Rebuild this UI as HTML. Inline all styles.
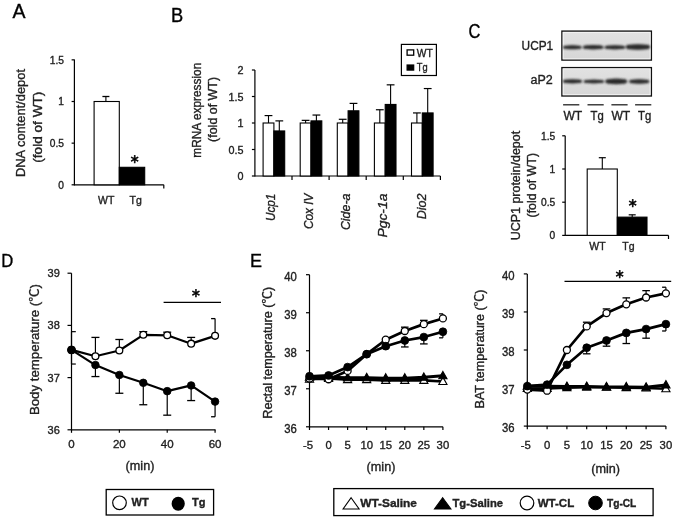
<!DOCTYPE html>
<html><head><meta charset="utf-8"><title>Figure</title>
<style>html,body{margin:0;padding:0;background:#fff;}svg{display:block;}text{font-family:"Liberation Sans", "Noto Sans CJK JP", sans-serif;}</style>
</head><body>
<svg width="675" height="518" viewBox="0 0 675 518">
<rect x="0" y="0" width="675" height="518" fill="#fff"/>
<text x="12.5" y="18.4" font-size="19.5" text-anchor="start" stroke="#000" stroke-width="0.35" fill="#000">A</text>
<text x="171" y="22.2" font-size="19.5" text-anchor="start" stroke="#000" stroke-width="0.35" textLength="12.2" lengthAdjust="spacingAndGlyphs" fill="#000">B</text>
<text x="468.6" y="37.7" font-size="19.5" text-anchor="start" stroke="#000" stroke-width="0.35" textLength="11.9" lengthAdjust="spacingAndGlyphs" fill="#000">C</text>
<text x="1.2" y="266.5" font-size="18" text-anchor="start" stroke="#000" stroke-width="0.35" textLength="12" lengthAdjust="spacingAndGlyphs" fill="#000">D</text>
<text x="250" y="266.5" font-size="18" text-anchor="start" stroke="#000" stroke-width="0.35" fill="#000">E</text>
<line x1="74.4" y1="59.6" x2="74.4" y2="185.4" stroke="#000" stroke-width="1.2"/>
<line x1="71.6" y1="184.8" x2="74.4" y2="184.8" stroke="#000" stroke-width="1.2"/>
<text x="63.9" y="188.5" font-size="10.2" text-anchor="end" stroke="#222" stroke-width="0.35" fill="#222">0</text>
<line x1="71.6" y1="143.15" x2="74.4" y2="143.15" stroke="#000" stroke-width="1.2"/>
<text x="63.9" y="146.85" font-size="10.2" text-anchor="end" stroke="#222" stroke-width="0.35" fill="#222">0.5</text>
<line x1="71.6" y1="101.5" x2="74.4" y2="101.5" stroke="#000" stroke-width="1.2"/>
<text x="63.9" y="105.2" font-size="10.2" text-anchor="end" stroke="#222" stroke-width="0.35" fill="#222">1</text>
<line x1="71.6" y1="59.85" x2="74.4" y2="59.85" stroke="#000" stroke-width="1.2"/>
<text x="63.9" y="63.55" font-size="10.2" text-anchor="end" stroke="#222" stroke-width="0.35" fill="#222">1.5</text>
<line x1="74.4" y1="184.8" x2="163.8" y2="184.8" stroke="#000" stroke-width="1.2"/>
<line x1="163.8" y1="184.8" x2="163.8" y2="188.6" stroke="#000" stroke-width="1.2"/>
<rect x="94.1" y="101.5" width="25.2" height="83.3" fill="#fff" stroke="#000" stroke-width="1.1"/>
<rect x="119.3" y="167.31" width="25.4" height="17.49" fill="#000" stroke="#000" stroke-width="1.1"/>
<line x1="105.9" y1="101.5" x2="105.9" y2="96.5" stroke="#000" stroke-width="1.1"/>
<line x1="102.4" y1="96.5" x2="109.4" y2="96.5" stroke="#000" stroke-width="1.3"/>
<text x="134.5" y="163.33" font-size="12.4" text-anchor="middle" font-family="DejaVu Sans" style="font-family:'DejaVu Sans',sans-serif" stroke="#000" stroke-width="0.5">∗</text>
<text x="106.2" y="203.6" font-size="10.5" text-anchor="middle" stroke="#222" stroke-width="0.35" fill="#222">WT</text>
<text x="135.7" y="203.6" font-size="10.5" text-anchor="middle" stroke="#222" stroke-width="0.35" fill="#222">Tg</text>
<text transform="translate(25.4,123) rotate(-90)" font-size="12" text-anchor="middle" stroke="#222" stroke-width="0.35" textLength="108" lengthAdjust="spacingAndGlyphs" fill="#222">DNA content/depot</text>
<text transform="translate(41.8,127.2) rotate(-90)" font-size="12" text-anchor="middle" stroke="#222" stroke-width="0.35" textLength="71" lengthAdjust="spacingAndGlyphs" fill="#222">(fold of WT)</text>
<line x1="254.9" y1="70" x2="254.9" y2="176.6" stroke="#000" stroke-width="1.2"/>
<line x1="251.9" y1="176" x2="254.9" y2="176" stroke="#000" stroke-width="1.2"/>
<text x="243.6" y="180.3" font-size="10.8" text-anchor="end" stroke="#222" stroke-width="0.35" fill="#222">0</text>
<line x1="251.9" y1="149.5" x2="254.9" y2="149.5" stroke="#000" stroke-width="1.2"/>
<text x="243.6" y="153.8" font-size="10.8" text-anchor="end" stroke="#222" stroke-width="0.35" fill="#222">0.5</text>
<line x1="251.9" y1="123" x2="254.9" y2="123" stroke="#000" stroke-width="1.2"/>
<text x="243.6" y="127.3" font-size="10.8" text-anchor="end" stroke="#222" stroke-width="0.35" fill="#222">1</text>
<line x1="251.9" y1="96.5" x2="254.9" y2="96.5" stroke="#000" stroke-width="1.2"/>
<text x="243.6" y="100.8" font-size="10.8" text-anchor="end" stroke="#222" stroke-width="0.35" fill="#222">1.5</text>
<line x1="251.9" y1="70" x2="254.9" y2="70" stroke="#000" stroke-width="1.2"/>
<text x="243.6" y="74.3" font-size="10.8" text-anchor="end" stroke="#222" stroke-width="0.35" fill="#222">2</text>
<line x1="254.9" y1="176" x2="440.4" y2="176" stroke="#000" stroke-width="1.2"/>
<line x1="292" y1="176" x2="292" y2="180" stroke="#000" stroke-width="1.2"/>
<line x1="329.1" y1="176" x2="329.1" y2="180" stroke="#000" stroke-width="1.2"/>
<line x1="366.2" y1="176" x2="366.2" y2="180" stroke="#000" stroke-width="1.2"/>
<line x1="403.3" y1="176" x2="403.3" y2="180" stroke="#000" stroke-width="1.2"/>
<line x1="440.4" y1="176" x2="440.4" y2="180" stroke="#000" stroke-width="1.2"/>
<rect x="263.1" y="123" width="10.8" height="53" fill="#fff" stroke="#000" stroke-width="1.1"/>
<rect x="273.9" y="130.95" width="10.8" height="45.05" fill="#000" stroke="#000" stroke-width="1.1"/>
<line x1="268.5" y1="123" x2="268.5" y2="115.58" stroke="#000" stroke-width="1.1"/>
<line x1="264.6" y1="115.58" x2="272.4" y2="115.58" stroke="#000" stroke-width="1.2"/>
<line x1="279.3" y1="130.95" x2="279.3" y2="120.88" stroke="#000" stroke-width="1.1"/>
<line x1="275.4" y1="120.88" x2="283.2" y2="120.88" stroke="#000" stroke-width="1.2"/>
<rect x="300.2" y="123" width="10.8" height="53" fill="#fff" stroke="#000" stroke-width="1.1"/>
<rect x="311" y="120.88" width="10.8" height="55.12" fill="#000" stroke="#000" stroke-width="1.1"/>
<line x1="305.6" y1="123" x2="305.6" y2="120.35" stroke="#000" stroke-width="1.1"/>
<line x1="301.7" y1="120.35" x2="309.5" y2="120.35" stroke="#000" stroke-width="1.2"/>
<line x1="316.4" y1="120.88" x2="316.4" y2="115.05" stroke="#000" stroke-width="1.1"/>
<line x1="312.5" y1="115.05" x2="320.3" y2="115.05" stroke="#000" stroke-width="1.2"/>
<rect x="337.3" y="123" width="10.8" height="53" fill="#fff" stroke="#000" stroke-width="1.1"/>
<rect x="348.1" y="110.81" width="10.8" height="65.19" fill="#000" stroke="#000" stroke-width="1.1"/>
<line x1="342.7" y1="123" x2="342.7" y2="119.29" stroke="#000" stroke-width="1.1"/>
<line x1="338.8" y1="119.29" x2="346.6" y2="119.29" stroke="#000" stroke-width="1.2"/>
<line x1="353.5" y1="110.81" x2="353.5" y2="103.39" stroke="#000" stroke-width="1.1"/>
<line x1="349.6" y1="103.39" x2="357.4" y2="103.39" stroke="#000" stroke-width="1.2"/>
<rect x="374.4" y="123" width="10.8" height="53" fill="#fff" stroke="#000" stroke-width="1.1"/>
<rect x="385.2" y="104.45" width="10.8" height="71.55" fill="#000" stroke="#000" stroke-width="1.1"/>
<line x1="379.8" y1="123" x2="379.8" y2="109.75" stroke="#000" stroke-width="1.1"/>
<line x1="375.9" y1="109.75" x2="383.7" y2="109.75" stroke="#000" stroke-width="1.2"/>
<line x1="390.6" y1="104.45" x2="390.6" y2="84.84" stroke="#000" stroke-width="1.1"/>
<line x1="386.7" y1="84.84" x2="394.5" y2="84.84" stroke="#000" stroke-width="1.2"/>
<rect x="411.5" y="123" width="10.8" height="53" fill="#fff" stroke="#000" stroke-width="1.1"/>
<rect x="422.3" y="112.93" width="10.8" height="63.07" fill="#000" stroke="#000" stroke-width="1.1"/>
<line x1="416.9" y1="123" x2="416.9" y2="112.93" stroke="#000" stroke-width="1.1"/>
<line x1="413" y1="112.93" x2="420.8" y2="112.93" stroke="#000" stroke-width="1.2"/>
<line x1="427.7" y1="112.93" x2="427.7" y2="88.55" stroke="#000" stroke-width="1.1"/>
<line x1="423.8" y1="88.55" x2="431.6" y2="88.55" stroke="#000" stroke-width="1.2"/>
<rect x="401.4" y="44.4" width="35" height="31.1" fill="#fff" stroke="#000" stroke-width="1.2"/>
<rect x="407.1" y="49.9" width="6.6" height="5.3" fill="#fff" stroke="#000" stroke-width="1.3"/>
<text x="416.8" y="56.7" font-size="10.2" text-anchor="start" stroke="#222" stroke-width="0.35" textLength="16" lengthAdjust="spacingAndGlyphs" fill="#222">WT</text>
<rect x="407.1" y="65" width="6.6" height="5.1" fill="#000" stroke="#000" stroke-width="1.2"/>
<text x="416.8" y="71.1" font-size="10.2" text-anchor="start" stroke="#222" stroke-width="0.35" textLength="10.8" lengthAdjust="spacingAndGlyphs" fill="#222">Tg</text>
<text transform="translate(201,110.2) rotate(-90)" font-size="12" text-anchor="middle" stroke="#222" stroke-width="0.35" textLength="95" lengthAdjust="spacingAndGlyphs" fill="#222">mRNA expression</text>
<text transform="translate(217,109.4) rotate(-90)" font-size="12" text-anchor="middle" stroke="#222" stroke-width="0.35" textLength="65" lengthAdjust="spacingAndGlyphs" fill="#222">(fold of WT)</text>
<text transform="translate(274.65,193.6) rotate(-90)" font-size="13" text-anchor="end" stroke="#222" stroke-width="0.35" font-style="italic" textLength="27.5" lengthAdjust="spacingAndGlyphs" fill="#222">Ucp1</text>
<text transform="translate(312.75,193.6) rotate(-90)" font-size="13" text-anchor="end" stroke="#222" stroke-width="0.35" font-style="italic" textLength="35.5" lengthAdjust="spacingAndGlyphs" fill="#222">Cox IV</text>
<text transform="translate(349.85,193.6) rotate(-90)" font-size="13" text-anchor="end" stroke="#222" stroke-width="0.35" font-style="italic" textLength="36.5" lengthAdjust="spacingAndGlyphs" fill="#222">Cide-a</text>
<text transform="translate(386.95,193.6) rotate(-90)" font-size="13" text-anchor="end" stroke="#222" stroke-width="0.35" font-style="italic" textLength="44" lengthAdjust="spacingAndGlyphs" fill="#222">Pgc-1a</text>
<text transform="translate(425.55,193.6) rotate(-90)" font-size="13" text-anchor="end" stroke="#222" stroke-width="0.35" font-style="italic" textLength="25.6" lengthAdjust="spacingAndGlyphs" fill="#222">Dio2</text>
<text x="553.2" y="49.8" font-size="12.5" text-anchor="end" stroke="#222" stroke-width="0.35" textLength="31.6" lengthAdjust="spacingAndGlyphs" fill="#222">UCP1</text>
<text x="552.8" y="83.7" font-size="12.5" text-anchor="end" stroke="#222" stroke-width="0.35" fill="#222">aP2</text>
<defs><linearGradient id="bg" x1="0" y1="0" x2="0" y2="1"><stop offset="0" stop-color="#e2e2e2"/><stop offset="1" stop-color="#d6d6d6"/></linearGradient><filter id="bl" x="-10%" y="-50%" width="120%" height="200%"><feGaussianBlur stdDeviation="0.9"/></filter></defs>
<rect x="561.9" y="31.1" width="89.5" height="29" fill="url(#bg)" stroke="#111" stroke-width="1.35"/>
<rect x="563.2" y="32.4" width="86.9" height="26.4" fill="none" stroke="#f4f4f4" stroke-width="0.9"/>
<g filter="url(#bl)">
<ellipse cx="572.25" cy="47.3" rx="9.65" ry="1.99" fill="#2a2a2a"/>
<rect x="563.1" y="45.78" width="18.3" height="3.04" rx="1.52" fill="#2a2a2a"/>
<ellipse cx="593.2" cy="47.3" rx="10.5" ry="2.21" fill="#2a2a2a"/>
<rect x="583.2" y="45.62" width="20" height="3.36" rx="1.68" fill="#2a2a2a"/>
<ellipse cx="614.85" cy="47.3" rx="10.45" ry="2.1" fill="#2a2a2a"/>
<rect x="604.9" y="45.7" width="19.9" height="3.2" rx="1.6" fill="#2a2a2a"/>
<ellipse cx="637.85" cy="47" rx="12.35" ry="2.84" fill="#2a2a2a"/>
<rect x="626" y="44.84" width="23.7" height="4.32" rx="2.16" fill="#2a2a2a"/>
</g>
<rect x="561.9" y="67.6" width="89.5" height="28.4" fill="url(#bg)" stroke="#111" stroke-width="1.35"/>
<rect x="563.2" y="68.9" width="86.9" height="25.8" fill="none" stroke="#f4f4f4" stroke-width="0.9"/>
<g filter="url(#bl)">
<ellipse cx="572.45" cy="81.3" rx="9.85" ry="2.1" fill="#2a2a2a"/>
<rect x="563.1" y="79.7" width="18.7" height="3.2" rx="1.6" fill="#2a2a2a"/>
<ellipse cx="593.85" cy="81.4" rx="10.35" ry="1.99" fill="#2a2a2a"/>
<rect x="584" y="79.88" width="19.7" height="3.04" rx="1.52" fill="#2a2a2a"/>
<ellipse cx="616.25" cy="81.4" rx="11.25" ry="2.84" fill="#2a2a2a"/>
<rect x="605.5" y="79.24" width="21.5" height="4.32" rx="2.16" fill="#2a2a2a"/>
<ellipse cx="639.25" cy="81.5" rx="10.35" ry="2.21" fill="#2a2a2a"/>
<rect x="629.4" y="79.82" width="19.7" height="3.36" rx="1.68" fill="#2a2a2a"/>
</g>
<line x1="563.1" y1="104.8" x2="579.3" y2="104.8" stroke="#222" stroke-width="1.3"/>
<line x1="587.5" y1="104.8" x2="603.7" y2="104.8" stroke="#222" stroke-width="1.3"/>
<line x1="611.4" y1="104.8" x2="627.6" y2="104.8" stroke="#222" stroke-width="1.3"/>
<line x1="635.1" y1="104.8" x2="651.3" y2="104.8" stroke="#222" stroke-width="1.3"/>
<text x="572.8" y="119.8" font-size="12" text-anchor="middle" stroke="#222" stroke-width="0.35" textLength="18.8" lengthAdjust="spacingAndGlyphs" fill="#222">WT</text>
<text x="597.1" y="119.8" font-size="12" text-anchor="middle" stroke="#222" stroke-width="0.35" textLength="13.2" lengthAdjust="spacingAndGlyphs" fill="#222">Tg</text>
<text x="620.8" y="119.8" font-size="12" text-anchor="middle" stroke="#222" stroke-width="0.35" textLength="18.8" lengthAdjust="spacingAndGlyphs" fill="#222">WT</text>
<text x="644.6" y="119.8" font-size="12" text-anchor="middle" stroke="#222" stroke-width="0.35" textLength="13.2" lengthAdjust="spacingAndGlyphs" fill="#222">Tg</text>
<line x1="565.2" y1="135.8" x2="565.2" y2="236" stroke="#000" stroke-width="1.2"/>
<line x1="562.2" y1="235.4" x2="565.2" y2="235.4" stroke="#000" stroke-width="1.2"/>
<text x="555.2" y="239.1" font-size="10.2" text-anchor="end" stroke="#222" stroke-width="0.35" fill="#222">0</text>
<line x1="562.2" y1="202.2" x2="565.2" y2="202.2" stroke="#000" stroke-width="1.2"/>
<text x="555.2" y="205.9" font-size="10.2" text-anchor="end" stroke="#222" stroke-width="0.35" fill="#222">0.5</text>
<line x1="562.2" y1="169" x2="565.2" y2="169" stroke="#000" stroke-width="1.2"/>
<text x="555.2" y="172.7" font-size="10.2" text-anchor="end" stroke="#222" stroke-width="0.35" fill="#222">1</text>
<line x1="562.2" y1="135.8" x2="565.2" y2="135.8" stroke="#000" stroke-width="1.2"/>
<text x="555.2" y="139.5" font-size="10.2" text-anchor="end" stroke="#222" stroke-width="0.35" fill="#222">1.5</text>
<line x1="565.2" y1="235.4" x2="668.5" y2="235.4" stroke="#000" stroke-width="1.2"/>
<line x1="668.5" y1="235.4" x2="668.5" y2="239" stroke="#000" stroke-width="1.2"/>
<rect x="587.2" y="169" width="30.1" height="66.4" fill="#fff" stroke="#000" stroke-width="1.1"/>
<rect x="617.3" y="217.14" width="29.7" height="18.26" fill="#000" stroke="#000" stroke-width="1.1"/>
<line x1="602.3" y1="169" x2="602.3" y2="157.71" stroke="#000" stroke-width="1.1"/>
<line x1="598.8" y1="157.71" x2="605.8" y2="157.71" stroke="#000" stroke-width="1.2"/>
<line x1="632.2" y1="217.14" x2="632.2" y2="214.82" stroke="#000" stroke-width="1.1"/>
<line x1="628.7" y1="214.82" x2="635.7" y2="214.82" stroke="#000" stroke-width="1.2"/>
<text x="632.4" y="206.93" font-size="12.4" text-anchor="middle" font-family="DejaVu Sans" style="font-family:'DejaVu Sans',sans-serif" stroke="#000" stroke-width="0.5">∗</text>
<text x="597.5" y="250.4" font-size="10.5" text-anchor="middle" stroke="#222" stroke-width="0.35" fill="#222">WT</text>
<text x="628.5" y="250.4" font-size="10.5" text-anchor="middle" stroke="#222" stroke-width="0.35" fill="#222">Tg</text>
<text transform="translate(520.2,185.6) rotate(-90)" font-size="12" text-anchor="middle" stroke="#222" stroke-width="0.35" textLength="109.5" lengthAdjust="spacingAndGlyphs" fill="#222">UCP1 protein/depot</text>
<text transform="translate(536,185.2) rotate(-90)" font-size="12" text-anchor="middle" stroke="#222" stroke-width="0.35" textLength="64.5" lengthAdjust="spacingAndGlyphs" fill="#222">(fold of WT)</text>
<line x1="71.5" y1="273.2" x2="71.5" y2="430.4" stroke="#000" stroke-width="1.2"/>
<line x1="67.5" y1="429.8" x2="71.5" y2="429.8" stroke="#000" stroke-width="1.2"/>
<text x="59.8" y="433.8" font-size="11" text-anchor="end" stroke="#222" stroke-width="0.35" fill="#222">36</text>
<line x1="67.5" y1="377.6" x2="71.5" y2="377.6" stroke="#000" stroke-width="1.2"/>
<text x="59.8" y="381.6" font-size="11" text-anchor="end" stroke="#222" stroke-width="0.35" fill="#222">37</text>
<line x1="67.5" y1="325.4" x2="71.5" y2="325.4" stroke="#000" stroke-width="1.2"/>
<text x="59.8" y="329.4" font-size="11" text-anchor="end" stroke="#222" stroke-width="0.35" fill="#222">38</text>
<line x1="67.5" y1="273.2" x2="71.5" y2="273.2" stroke="#000" stroke-width="1.2"/>
<text x="59.8" y="277.2" font-size="11" text-anchor="end" stroke="#222" stroke-width="0.35" fill="#222">39</text>
<line x1="71.5" y1="429.8" x2="215.5" y2="429.8" stroke="#000" stroke-width="1.2"/>
<line x1="71.5" y1="429.8" x2="71.5" y2="432.8" stroke="#000" stroke-width="1.2"/>
<text x="71.5" y="448.3" font-size="11.5" text-anchor="middle" stroke="#222" stroke-width="0.35" fill="#222">0</text>
<line x1="119.36" y1="429.8" x2="119.36" y2="432.8" stroke="#000" stroke-width="1.2"/>
<text x="119.36" y="448.3" font-size="11.5" text-anchor="middle" stroke="#222" stroke-width="0.35" fill="#222">20</text>
<line x1="167.22" y1="429.8" x2="167.22" y2="432.8" stroke="#000" stroke-width="1.2"/>
<text x="167.22" y="448.3" font-size="11.5" text-anchor="middle" stroke="#222" stroke-width="0.35" fill="#222">40</text>
<line x1="215.08" y1="429.8" x2="215.08" y2="432.8" stroke="#000" stroke-width="1.2"/>
<text x="215.08" y="448.3" font-size="11.5" text-anchor="middle" stroke="#222" stroke-width="0.35" fill="#222">60</text>
<text x="140" y="470" font-size="12" text-anchor="middle" stroke="#222" stroke-width="0.35" textLength="28.8" lengthAdjust="spacingAndGlyphs" fill="#222">(min)</text>
<text transform="translate(39.3,349.6) rotate(-90)" font-size="12" text-anchor="middle" stroke="#222" stroke-width="0.35" textLength="131" lengthAdjust="spacingAndGlyphs" fill="#222">Body temperature (<tspan font-family='Noto Sans CJK JP'>℃</tspan>)</text>
<line x1="71.5" y1="349.93" x2="71.5" y2="331.66" stroke="#000" stroke-width="1.2"/>
<line x1="71.5" y1="331.66" x2="75.8" y2="331.66" stroke="#000" stroke-width="1.2"/>
<line x1="95.43" y1="356.2" x2="95.43" y2="337.41" stroke="#000" stroke-width="1.2"/>
<line x1="91.43" y1="337.41" x2="99.43" y2="337.41" stroke="#000" stroke-width="1.3"/>
<line x1="119.36" y1="350.46" x2="119.36" y2="339.49" stroke="#000" stroke-width="1.2"/>
<line x1="115.36" y1="339.49" x2="123.36" y2="339.49" stroke="#000" stroke-width="1.3"/>
<line x1="143.29" y1="334.8" x2="143.29" y2="331.66" stroke="#000" stroke-width="1.2"/>
<line x1="139.29" y1="331.66" x2="147.29" y2="331.66" stroke="#000" stroke-width="1.3"/>
<line x1="167.22" y1="335.32" x2="167.22" y2="332.19" stroke="#000" stroke-width="1.2"/>
<line x1="163.22" y1="332.19" x2="171.22" y2="332.19" stroke="#000" stroke-width="1.3"/>
<line x1="191.15" y1="343.67" x2="191.15" y2="337.41" stroke="#000" stroke-width="1.2"/>
<line x1="187.15" y1="337.41" x2="195.15" y2="337.41" stroke="#000" stroke-width="1.3"/>
<line x1="215.08" y1="335.84" x2="215.08" y2="318.61" stroke="#000" stroke-width="1.2"/>
<line x1="211.08" y1="318.61" x2="215.08" y2="318.61" stroke="#000" stroke-width="1.3"/>
<line x1="71.5" y1="349.93" x2="71.5" y2="364.03" stroke="#000" stroke-width="1.2"/>
<line x1="71.5" y1="364.03" x2="75.8" y2="364.03" stroke="#000" stroke-width="1.2"/>
<line x1="95.43" y1="365.07" x2="95.43" y2="376.56" stroke="#000" stroke-width="1.2"/>
<line x1="91.43" y1="376.56" x2="99.43" y2="376.56" stroke="#000" stroke-width="1.3"/>
<line x1="119.36" y1="374.99" x2="119.36" y2="393.26" stroke="#000" stroke-width="1.2"/>
<line x1="115.36" y1="393.26" x2="123.36" y2="393.26" stroke="#000" stroke-width="1.3"/>
<line x1="143.29" y1="382.82" x2="143.29" y2="404.74" stroke="#000" stroke-width="1.2"/>
<line x1="139.29" y1="404.74" x2="147.29" y2="404.74" stroke="#000" stroke-width="1.3"/>
<line x1="167.22" y1="391.17" x2="167.22" y2="415.18" stroke="#000" stroke-width="1.2"/>
<line x1="163.22" y1="415.18" x2="171.22" y2="415.18" stroke="#000" stroke-width="1.3"/>
<line x1="191.15" y1="385.43" x2="191.15" y2="400.57" stroke="#000" stroke-width="1.2"/>
<line x1="187.15" y1="400.57" x2="195.15" y2="400.57" stroke="#000" stroke-width="1.3"/>
<line x1="215.08" y1="401.61" x2="215.08" y2="416.75" stroke="#000" stroke-width="1.2"/>
<line x1="211.08" y1="416.75" x2="215.08" y2="416.75" stroke="#000" stroke-width="1.3"/>
<polyline points="71.5,349.93 95.43,365.07 119.36,374.99 143.29,382.82 167.22,391.17 191.15,385.43 215.08,401.61" fill="none" stroke="#000" stroke-width="2.2" stroke-linejoin="round"/>
<polyline points="71.5,349.93 95.43,356.2 119.36,350.46 143.29,334.8 167.22,335.32 191.15,343.67 215.08,335.84" fill="none" stroke="#000" stroke-width="2.2" stroke-linejoin="round"/>
<circle cx="71.5" cy="349.93" r="3.8" fill="#000" stroke="#000" stroke-width="0.8"/>
<circle cx="95.43" cy="365.07" r="3.8" fill="#000" stroke="#000" stroke-width="0.8"/>
<circle cx="119.36" cy="374.99" r="3.8" fill="#000" stroke="#000" stroke-width="0.8"/>
<circle cx="143.29" cy="382.82" r="3.8" fill="#000" stroke="#000" stroke-width="0.8"/>
<circle cx="167.22" cy="391.17" r="3.8" fill="#000" stroke="#000" stroke-width="0.8"/>
<circle cx="191.15" cy="385.43" r="3.8" fill="#000" stroke="#000" stroke-width="0.8"/>
<circle cx="215.08" cy="401.61" r="3.8" fill="#000" stroke="#000" stroke-width="0.8"/>
<circle cx="95.43" cy="356.2" r="3.4" fill="#fff" stroke="#000" stroke-width="1.3"/>
<circle cx="119.36" cy="350.46" r="3.4" fill="#fff" stroke="#000" stroke-width="1.3"/>
<circle cx="143.29" cy="334.8" r="3.4" fill="#fff" stroke="#000" stroke-width="1.3"/>
<circle cx="167.22" cy="335.32" r="3.4" fill="#fff" stroke="#000" stroke-width="1.3"/>
<circle cx="191.15" cy="343.67" r="3.4" fill="#fff" stroke="#000" stroke-width="1.3"/>
<circle cx="215.08" cy="335.84" r="3.4" fill="#fff" stroke="#000" stroke-width="1.3"/>
<circle cx="71.5" cy="349.93" r="4" fill="#000" stroke="#000" stroke-width="0.8"/>
<line x1="163.6" y1="302.4" x2="221" y2="302.4" stroke="#000" stroke-width="1.2"/>
<text x="195.7" y="296.93" font-size="12.4" text-anchor="middle" font-family="DejaVu Sans" style="font-family:'DejaVu Sans',sans-serif" stroke="#000" stroke-width="0.5">∗</text>
<rect x="106.2" y="489.5" width="107.4" height="25.5" fill="#fff" stroke="#000" stroke-width="1.3"/>
<circle cx="119.5" cy="502.8" r="6.8" fill="#fff" stroke="#000" stroke-width="1.2"/>
<text x="131.5" y="506.2" font-size="11" text-anchor="start" stroke="#222" stroke-width="0.35" font-weight="bold" fill="#222">WT</text>
<ellipse cx="178.2" cy="503.7" rx="6.6" ry="7" fill="#000"/>
<text x="192" y="506.2" font-size="11" text-anchor="start" stroke="#222" stroke-width="0.35" font-weight="bold" fill="#222">Tg</text>
<line x1="309.5" y1="274.7" x2="309.5" y2="427.4" stroke="#000" stroke-width="1.2"/>
<line x1="306" y1="426.8" x2="309.5" y2="426.8" stroke="#000" stroke-width="1.2"/>
<text x="296.8" y="432.6" font-size="12" text-anchor="end" stroke="#222" stroke-width="0.35" textLength="12.6" lengthAdjust="spacingAndGlyphs" fill="#222">36</text>
<line x1="306" y1="388.77" x2="309.5" y2="388.77" stroke="#000" stroke-width="1.2"/>
<text x="296.8" y="394.57" font-size="12" text-anchor="end" stroke="#222" stroke-width="0.35" textLength="12.6" lengthAdjust="spacingAndGlyphs" fill="#222">37</text>
<line x1="306" y1="350.75" x2="309.5" y2="350.75" stroke="#000" stroke-width="1.2"/>
<text x="296.8" y="356.55" font-size="12" text-anchor="end" stroke="#222" stroke-width="0.35" textLength="12.6" lengthAdjust="spacingAndGlyphs" fill="#222">38</text>
<line x1="306" y1="312.73" x2="309.5" y2="312.73" stroke="#000" stroke-width="1.2"/>
<text x="296.8" y="318.53" font-size="12" text-anchor="end" stroke="#222" stroke-width="0.35" textLength="12.6" lengthAdjust="spacingAndGlyphs" fill="#222">39</text>
<line x1="306" y1="274.7" x2="309.5" y2="274.7" stroke="#000" stroke-width="1.2"/>
<text x="296.8" y="280.5" font-size="12" text-anchor="end" stroke="#222" stroke-width="0.35" textLength="12.6" lengthAdjust="spacingAndGlyphs" fill="#222">40</text>
<line x1="309.5" y1="426.8" x2="442.9" y2="426.8" stroke="#000" stroke-width="1.2"/>
<line x1="309.5" y1="426.8" x2="309.5" y2="430" stroke="#000" stroke-width="1.2"/>
<text x="308" y="449.3" font-size="11.3" text-anchor="middle" stroke="#222" stroke-width="0.35" fill="#222">-5</text>
<line x1="328.56" y1="426.8" x2="328.56" y2="430" stroke="#000" stroke-width="1.2"/>
<text x="328.56" y="449.3" font-size="11.3" text-anchor="middle" stroke="#222" stroke-width="0.35" fill="#222">0</text>
<line x1="347.61" y1="426.8" x2="347.61" y2="430" stroke="#000" stroke-width="1.2"/>
<text x="347.61" y="449.3" font-size="11.3" text-anchor="middle" stroke="#222" stroke-width="0.35" fill="#222">5</text>
<line x1="366.67" y1="426.8" x2="366.67" y2="430" stroke="#000" stroke-width="1.2"/>
<text x="366.67" y="449.3" font-size="11.3" text-anchor="middle" stroke="#222" stroke-width="0.35" fill="#222">10</text>
<line x1="385.73" y1="426.8" x2="385.73" y2="430" stroke="#000" stroke-width="1.2"/>
<text x="385.73" y="449.3" font-size="11.3" text-anchor="middle" stroke="#222" stroke-width="0.35" fill="#222">15</text>
<line x1="404.79" y1="426.8" x2="404.79" y2="430" stroke="#000" stroke-width="1.2"/>
<text x="404.79" y="449.3" font-size="11.3" text-anchor="middle" stroke="#222" stroke-width="0.35" fill="#222">20</text>
<line x1="423.84" y1="426.8" x2="423.84" y2="430" stroke="#000" stroke-width="1.2"/>
<text x="423.84" y="449.3" font-size="11.3" text-anchor="middle" stroke="#222" stroke-width="0.35" fill="#222">25</text>
<line x1="442.9" y1="426.8" x2="442.9" y2="430" stroke="#000" stroke-width="1.2"/>
<text x="442.9" y="449.3" font-size="11.3" text-anchor="middle" stroke="#222" stroke-width="0.35" fill="#222">30</text>
<text x="381" y="471.2" font-size="12" text-anchor="middle" stroke="#222" stroke-width="0.35" textLength="28.8" lengthAdjust="spacingAndGlyphs" fill="#222">(min)</text>
<text transform="translate(272.4,352.7) rotate(-90)" font-size="12" text-anchor="middle" stroke="#222" stroke-width="0.35" textLength="132" lengthAdjust="spacingAndGlyphs" fill="#222">Rectal temperature (<tspan font-family='Noto Sans CJK JP'>℃</tspan>)</text>
<line x1="404.79" y1="330.98" x2="404.79" y2="327.17" stroke="#000" stroke-width="1.2"/>
<line x1="400.99" y1="327.17" x2="408.59" y2="327.17" stroke="#000" stroke-width="1.3"/>
<line x1="423.84" y1="324.13" x2="423.84" y2="320.33" stroke="#000" stroke-width="1.2"/>
<line x1="420.04" y1="320.33" x2="427.64" y2="320.33" stroke="#000" stroke-width="1.3"/>
<line x1="442.9" y1="318.43" x2="442.9" y2="313.87" stroke="#000" stroke-width="1.2"/>
<line x1="439.1" y1="313.87" x2="442.9" y2="313.87" stroke="#000" stroke-width="1.3"/>
<line x1="385.73" y1="346.19" x2="385.73" y2="347.71" stroke="#000" stroke-width="1.2"/>
<line x1="381.93" y1="347.71" x2="389.53" y2="347.71" stroke="#000" stroke-width="1.3"/>
<line x1="404.79" y1="340.48" x2="404.79" y2="346.95" stroke="#000" stroke-width="1.2"/>
<line x1="400.99" y1="346.95" x2="408.59" y2="346.95" stroke="#000" stroke-width="1.3"/>
<line x1="423.84" y1="337.06" x2="423.84" y2="343.91" stroke="#000" stroke-width="1.2"/>
<line x1="420.04" y1="343.91" x2="427.64" y2="343.91" stroke="#000" stroke-width="1.3"/>
<line x1="442.9" y1="331.74" x2="442.9" y2="337.82" stroke="#000" stroke-width="1.2"/>
<line x1="439.1" y1="337.82" x2="442.9" y2="337.82" stroke="#000" stroke-width="1.3"/>
<polyline points="309.5,379.27 328.56,378.51 347.61,379.65 366.67,379.65 385.73,380.41 404.79,380.41 423.84,380.41 442.9,381.55" fill="none" stroke="#000" stroke-width="2.6" stroke-linejoin="round"/>
<polyline points="309.5,377.37 328.56,377.37 347.61,377.75 366.67,377.75 385.73,378.13 404.79,378.13 423.84,377.37 442.9,375.85" fill="none" stroke="#000" stroke-width="3.0" stroke-linejoin="round"/>
<polyline points="309.5,378.51 328.56,379.27 347.61,370.9 366.67,354.17 385.73,339.72 404.79,330.98 423.84,324.13 442.9,318.43" fill="none" stroke="#000" stroke-width="2.7" stroke-linejoin="round"/>
<polyline points="309.5,376.23 328.56,375.47 347.61,367.1 366.67,354.17 385.73,346.19 404.79,340.48 423.84,337.06 442.9,331.74" fill="none" stroke="#000" stroke-width="2.7" stroke-linejoin="round"/>
<polygon points="309.5,374.84 313.6,382.22 305.4,382.22" fill="#fff" stroke="#000" stroke-width="1.1" stroke-linejoin="miter"/>
<polygon points="328.56,374.08 332.66,381.46 324.46,381.46" fill="#fff" stroke="#000" stroke-width="1.1" stroke-linejoin="miter"/>
<polygon points="347.61,375.22 351.71,382.6 343.51,382.6" fill="#fff" stroke="#000" stroke-width="1.1" stroke-linejoin="miter"/>
<polygon points="366.67,375.22 370.77,382.6 362.57,382.6" fill="#fff" stroke="#000" stroke-width="1.1" stroke-linejoin="miter"/>
<polygon points="385.73,375.98 389.83,383.36 381.63,383.36" fill="#fff" stroke="#000" stroke-width="1.1" stroke-linejoin="miter"/>
<polygon points="404.79,375.98 408.89,383.36 400.69,383.36" fill="#fff" stroke="#000" stroke-width="1.1" stroke-linejoin="miter"/>
<polygon points="423.84,375.98 427.94,383.36 419.74,383.36" fill="#fff" stroke="#000" stroke-width="1.1" stroke-linejoin="miter"/>
<polygon points="442.9,377.12 447,384.5 438.8,384.5" fill="#fff" stroke="#000" stroke-width="1.1" stroke-linejoin="miter"/>
<polygon points="309.5,372.94 313.6,380.32 305.4,380.32" fill="#000" stroke="#000" stroke-width="1.1" stroke-linejoin="miter"/>
<polygon points="328.56,372.94 332.66,380.32 324.46,380.32" fill="#000" stroke="#000" stroke-width="1.1" stroke-linejoin="miter"/>
<polygon points="347.61,373.32 351.71,380.7 343.51,380.7" fill="#000" stroke="#000" stroke-width="1.1" stroke-linejoin="miter"/>
<polygon points="366.67,373.32 370.77,380.7 362.57,380.7" fill="#000" stroke="#000" stroke-width="1.1" stroke-linejoin="miter"/>
<polygon points="385.73,373.7 389.83,381.08 381.63,381.08" fill="#000" stroke="#000" stroke-width="1.1" stroke-linejoin="miter"/>
<polygon points="404.79,373.7 408.89,381.08 400.69,381.08" fill="#000" stroke="#000" stroke-width="1.1" stroke-linejoin="miter"/>
<polygon points="423.84,372.94 427.94,380.32 419.74,380.32" fill="#000" stroke="#000" stroke-width="1.1" stroke-linejoin="miter"/>
<polygon points="442.9,371.42 447,378.8 438.8,378.8" fill="#000" stroke="#000" stroke-width="1.1" stroke-linejoin="miter"/>
<circle cx="309.5" cy="378.51" r="3.5" fill="#fff" stroke="#000" stroke-width="1.3"/>
<circle cx="328.56" cy="379.27" r="3.5" fill="#fff" stroke="#000" stroke-width="1.3"/>
<circle cx="347.61" cy="370.9" r="3.5" fill="#fff" stroke="#000" stroke-width="1.3"/>
<circle cx="366.67" cy="354.17" r="3.5" fill="#fff" stroke="#000" stroke-width="1.3"/>
<circle cx="385.73" cy="339.72" r="3.5" fill="#fff" stroke="#000" stroke-width="1.3"/>
<circle cx="404.79" cy="330.98" r="3.5" fill="#fff" stroke="#000" stroke-width="1.3"/>
<circle cx="423.84" cy="324.13" r="3.5" fill="#fff" stroke="#000" stroke-width="1.3"/>
<circle cx="442.9" cy="318.43" r="3.5" fill="#fff" stroke="#000" stroke-width="1.3"/>
<circle cx="309.5" cy="376.23" r="3.9" fill="#000" stroke="#000" stroke-width="0.8"/>
<circle cx="328.56" cy="375.47" r="3.9" fill="#000" stroke="#000" stroke-width="0.8"/>
<circle cx="347.61" cy="367.1" r="3.9" fill="#000" stroke="#000" stroke-width="0.8"/>
<circle cx="366.67" cy="354.17" r="3.9" fill="#000" stroke="#000" stroke-width="0.8"/>
<circle cx="385.73" cy="346.19" r="3.9" fill="#000" stroke="#000" stroke-width="0.8"/>
<circle cx="404.79" cy="340.48" r="3.9" fill="#000" stroke="#000" stroke-width="0.8"/>
<circle cx="423.84" cy="337.06" r="3.9" fill="#000" stroke="#000" stroke-width="0.8"/>
<circle cx="442.9" cy="331.74" r="3.9" fill="#000" stroke="#000" stroke-width="0.8"/>
<line x1="527.3" y1="273.9" x2="527.3" y2="426.7" stroke="#000" stroke-width="1.2"/>
<line x1="523.8" y1="426.1" x2="527.3" y2="426.1" stroke="#000" stroke-width="1.2"/>
<text x="514.6" y="431.9" font-size="12" text-anchor="end" stroke="#222" stroke-width="0.35" textLength="12.6" lengthAdjust="spacingAndGlyphs" fill="#222">36</text>
<line x1="523.8" y1="388.05" x2="527.3" y2="388.05" stroke="#000" stroke-width="1.2"/>
<text x="514.6" y="393.85" font-size="12" text-anchor="end" stroke="#222" stroke-width="0.35" textLength="12.6" lengthAdjust="spacingAndGlyphs" fill="#222">37</text>
<line x1="523.8" y1="350" x2="527.3" y2="350" stroke="#000" stroke-width="1.2"/>
<text x="514.6" y="355.8" font-size="12" text-anchor="end" stroke="#222" stroke-width="0.35" textLength="12.6" lengthAdjust="spacingAndGlyphs" fill="#222">38</text>
<line x1="523.8" y1="311.95" x2="527.3" y2="311.95" stroke="#000" stroke-width="1.2"/>
<text x="514.6" y="317.75" font-size="12" text-anchor="end" stroke="#222" stroke-width="0.35" textLength="12.6" lengthAdjust="spacingAndGlyphs" fill="#222">39</text>
<line x1="523.8" y1="273.9" x2="527.3" y2="273.9" stroke="#000" stroke-width="1.2"/>
<text x="514.6" y="279.7" font-size="12" text-anchor="end" stroke="#222" stroke-width="0.35" textLength="12.6" lengthAdjust="spacingAndGlyphs" fill="#222">40</text>
<line x1="527.3" y1="426.1" x2="665.9" y2="426.1" stroke="#000" stroke-width="1.2"/>
<line x1="527.3" y1="426.1" x2="527.3" y2="429.3" stroke="#000" stroke-width="1.2"/>
<text x="525.8" y="449.3" font-size="11.3" text-anchor="middle" stroke="#222" stroke-width="0.35" fill="#222">-5</text>
<line x1="547.1" y1="426.1" x2="547.1" y2="429.3" stroke="#000" stroke-width="1.2"/>
<text x="547.1" y="449.3" font-size="11.3" text-anchor="middle" stroke="#222" stroke-width="0.35" fill="#222">0</text>
<line x1="566.9" y1="426.1" x2="566.9" y2="429.3" stroke="#000" stroke-width="1.2"/>
<text x="566.9" y="449.3" font-size="11.3" text-anchor="middle" stroke="#222" stroke-width="0.35" fill="#222">5</text>
<line x1="586.7" y1="426.1" x2="586.7" y2="429.3" stroke="#000" stroke-width="1.2"/>
<text x="586.7" y="449.3" font-size="11.3" text-anchor="middle" stroke="#222" stroke-width="0.35" fill="#222">10</text>
<line x1="606.5" y1="426.1" x2="606.5" y2="429.3" stroke="#000" stroke-width="1.2"/>
<text x="606.5" y="449.3" font-size="11.3" text-anchor="middle" stroke="#222" stroke-width="0.35" fill="#222">15</text>
<line x1="626.3" y1="426.1" x2="626.3" y2="429.3" stroke="#000" stroke-width="1.2"/>
<text x="626.3" y="449.3" font-size="11.3" text-anchor="middle" stroke="#222" stroke-width="0.35" fill="#222">20</text>
<line x1="646.1" y1="426.1" x2="646.1" y2="429.3" stroke="#000" stroke-width="1.2"/>
<text x="646.1" y="449.3" font-size="11.3" text-anchor="middle" stroke="#222" stroke-width="0.35" fill="#222">25</text>
<line x1="665.9" y1="426.1" x2="665.9" y2="429.3" stroke="#000" stroke-width="1.2"/>
<text x="665.9" y="449.3" font-size="11.3" text-anchor="middle" stroke="#222" stroke-width="0.35" fill="#222">30</text>
<text x="605.6" y="472.8" font-size="12" text-anchor="middle" stroke="#222" stroke-width="0.35" textLength="28.8" lengthAdjust="spacingAndGlyphs" fill="#222">(min)</text>
<text transform="translate(483.6,349) rotate(-90)" font-size="12" text-anchor="middle" stroke="#222" stroke-width="0.35" textLength="119" lengthAdjust="spacingAndGlyphs" fill="#222">BAT temperature (<tspan font-family='Noto Sans CJK JP'>℃</tspan>)</text>
<line x1="586.7" y1="326.41" x2="586.7" y2="322.22" stroke="#000" stroke-width="1.2"/>
<line x1="582.9" y1="322.22" x2="590.5" y2="322.22" stroke="#000" stroke-width="1.3"/>
<line x1="606.5" y1="313.09" x2="606.5" y2="308.91" stroke="#000" stroke-width="1.2"/>
<line x1="602.7" y1="308.91" x2="610.3" y2="308.91" stroke="#000" stroke-width="1.3"/>
<line x1="626.3" y1="304.34" x2="626.3" y2="297.87" stroke="#000" stroke-width="1.2"/>
<line x1="622.5" y1="297.87" x2="630.1" y2="297.87" stroke="#000" stroke-width="1.3"/>
<line x1="646.1" y1="297.49" x2="646.1" y2="290.64" stroke="#000" stroke-width="1.2"/>
<line x1="642.3" y1="290.64" x2="649.9" y2="290.64" stroke="#000" stroke-width="1.3"/>
<line x1="665.9" y1="293.31" x2="665.9" y2="287.22" stroke="#000" stroke-width="1.2"/>
<line x1="662.1" y1="287.22" x2="665.9" y2="287.22" stroke="#000" stroke-width="1.3"/>
<line x1="586.7" y1="347.72" x2="586.7" y2="353.81" stroke="#000" stroke-width="1.2"/>
<line x1="582.9" y1="353.81" x2="590.5" y2="353.81" stroke="#000" stroke-width="1.3"/>
<line x1="606.5" y1="340.49" x2="606.5" y2="346.19" stroke="#000" stroke-width="1.2"/>
<line x1="602.7" y1="346.19" x2="610.3" y2="346.19" stroke="#000" stroke-width="1.3"/>
<line x1="626.3" y1="332.88" x2="626.3" y2="343.53" stroke="#000" stroke-width="1.2"/>
<line x1="622.5" y1="343.53" x2="630.1" y2="343.53" stroke="#000" stroke-width="1.3"/>
<line x1="646.1" y1="329.07" x2="646.1" y2="338.2" stroke="#000" stroke-width="1.2"/>
<line x1="642.3" y1="338.2" x2="649.9" y2="338.2" stroke="#000" stroke-width="1.3"/>
<line x1="665.9" y1="324.13" x2="665.9" y2="330.98" stroke="#000" stroke-width="1.2"/>
<line x1="662.1" y1="330.98" x2="665.9" y2="330.98" stroke="#000" stroke-width="1.3"/>
<polyline points="527.3,388.43 547.1,388.43 566.9,387.67 586.7,387.29 606.5,387.29 626.3,387.67 646.1,388.05 665.9,388.81" fill="none" stroke="#000" stroke-width="2.6" stroke-linejoin="round"/>
<polyline points="527.3,386.15 547.1,386.15 566.9,386.53 586.7,386.53 606.5,386.91 626.3,386.91 646.1,387.29 665.9,385.01" fill="none" stroke="#000" stroke-width="3.0" stroke-linejoin="round"/>
<polyline points="527.3,389.57 547.1,390.71 566.9,350 586.7,326.41 606.5,313.09 626.3,304.34 646.1,297.49 665.9,293.31" fill="none" stroke="#000" stroke-width="2.7" stroke-linejoin="round"/>
<polyline points="527.3,386.15 547.1,384.63 566.9,364.84 586.7,347.72 606.5,340.49 626.3,332.88 646.1,329.07 665.9,324.13" fill="none" stroke="#000" stroke-width="2.7" stroke-linejoin="round"/>
<polygon points="527.3,384 531.4,391.38 523.2,391.38" fill="#fff" stroke="#000" stroke-width="1.1" stroke-linejoin="miter"/>
<polygon points="547.1,384 551.2,391.38 543,391.38" fill="#fff" stroke="#000" stroke-width="1.1" stroke-linejoin="miter"/>
<polygon points="566.9,383.24 571,390.62 562.8,390.62" fill="#fff" stroke="#000" stroke-width="1.1" stroke-linejoin="miter"/>
<polygon points="586.7,382.86 590.8,390.24 582.6,390.24" fill="#fff" stroke="#000" stroke-width="1.1" stroke-linejoin="miter"/>
<polygon points="606.5,382.86 610.6,390.24 602.4,390.24" fill="#fff" stroke="#000" stroke-width="1.1" stroke-linejoin="miter"/>
<polygon points="626.3,383.24 630.4,390.62 622.2,390.62" fill="#fff" stroke="#000" stroke-width="1.1" stroke-linejoin="miter"/>
<polygon points="646.1,383.62 650.2,391 642,391" fill="#fff" stroke="#000" stroke-width="1.1" stroke-linejoin="miter"/>
<polygon points="665.9,384.38 670,391.76 661.8,391.76" fill="#fff" stroke="#000" stroke-width="1.1" stroke-linejoin="miter"/>
<polygon points="527.3,381.72 531.4,389.1 523.2,389.1" fill="#000" stroke="#000" stroke-width="1.1" stroke-linejoin="miter"/>
<polygon points="547.1,381.72 551.2,389.1 543,389.1" fill="#000" stroke="#000" stroke-width="1.1" stroke-linejoin="miter"/>
<polygon points="566.9,382.1 571,389.48 562.8,389.48" fill="#000" stroke="#000" stroke-width="1.1" stroke-linejoin="miter"/>
<polygon points="586.7,382.1 590.8,389.48 582.6,389.48" fill="#000" stroke="#000" stroke-width="1.1" stroke-linejoin="miter"/>
<polygon points="606.5,382.48 610.6,389.86 602.4,389.86" fill="#000" stroke="#000" stroke-width="1.1" stroke-linejoin="miter"/>
<polygon points="626.3,382.48 630.4,389.86 622.2,389.86" fill="#000" stroke="#000" stroke-width="1.1" stroke-linejoin="miter"/>
<polygon points="646.1,382.86 650.2,390.24 642,390.24" fill="#000" stroke="#000" stroke-width="1.1" stroke-linejoin="miter"/>
<polygon points="665.9,380.58 670,387.96 661.8,387.96" fill="#000" stroke="#000" stroke-width="1.1" stroke-linejoin="miter"/>
<circle cx="527.3" cy="389.57" r="3.5" fill="#fff" stroke="#000" stroke-width="1.3"/>
<circle cx="547.1" cy="390.71" r="3.5" fill="#fff" stroke="#000" stroke-width="1.3"/>
<circle cx="566.9" cy="350" r="3.5" fill="#fff" stroke="#000" stroke-width="1.3"/>
<circle cx="586.7" cy="326.41" r="3.5" fill="#fff" stroke="#000" stroke-width="1.3"/>
<circle cx="606.5" cy="313.09" r="3.5" fill="#fff" stroke="#000" stroke-width="1.3"/>
<circle cx="626.3" cy="304.34" r="3.5" fill="#fff" stroke="#000" stroke-width="1.3"/>
<circle cx="646.1" cy="297.49" r="3.5" fill="#fff" stroke="#000" stroke-width="1.3"/>
<circle cx="665.9" cy="293.31" r="3.5" fill="#fff" stroke="#000" stroke-width="1.3"/>
<circle cx="527.3" cy="386.15" r="3.9" fill="#000" stroke="#000" stroke-width="0.8"/>
<circle cx="547.1" cy="384.63" r="3.9" fill="#000" stroke="#000" stroke-width="0.8"/>
<circle cx="566.9" cy="364.84" r="3.9" fill="#000" stroke="#000" stroke-width="0.8"/>
<circle cx="586.7" cy="347.72" r="3.9" fill="#000" stroke="#000" stroke-width="0.8"/>
<circle cx="606.5" cy="340.49" r="3.9" fill="#000" stroke="#000" stroke-width="0.8"/>
<circle cx="626.3" cy="332.88" r="3.9" fill="#000" stroke="#000" stroke-width="0.8"/>
<circle cx="646.1" cy="329.07" r="3.9" fill="#000" stroke="#000" stroke-width="0.8"/>
<circle cx="665.9" cy="324.13" r="3.9" fill="#000" stroke="#000" stroke-width="0.8"/>
<line x1="564.5" y1="281.3" x2="671.2" y2="281.3" stroke="#000" stroke-width="1.2"/>
<text x="619.5" y="277.73" font-size="12.4" text-anchor="middle" font-family="DejaVu Sans" style="font-family:'DejaVu Sans',sans-serif" stroke="#000" stroke-width="0.5">∗</text>
<rect x="333.8" y="488.6" width="319.3" height="27" fill="#fff" stroke="#000" stroke-width="1.3"/>
<polygon points="351.1,497.8 359.1,509 343.1,509" fill="#fff" stroke="#000" stroke-width="1.1"/>
<text x="360.2" y="507" font-size="11" text-anchor="start" stroke="#222" stroke-width="0.35" font-weight="bold" textLength="56.8" lengthAdjust="spacingAndGlyphs" fill="#222">WT-Saline</text>
<polygon points="442.7,497.8 450.9,509 434.5,509" fill="#000" stroke="#000" stroke-width="1.1"/>
<text x="452.5" y="507" font-size="11" text-anchor="start" stroke="#222" stroke-width="0.35" font-weight="bold" textLength="50.6" lengthAdjust="spacingAndGlyphs" fill="#222">Tg-Saline</text>
<circle cx="527" cy="503" r="6.8" fill="#fff" stroke="#000" stroke-width="1.2"/>
<text x="537.7" y="507" font-size="11" text-anchor="start" stroke="#222" stroke-width="0.35" font-weight="bold" textLength="36.5" lengthAdjust="spacingAndGlyphs" fill="#222">WT-CL</text>
<circle cx="595.5" cy="503" r="6.8" fill="#000" stroke="#000" stroke-width="1"/>
<text x="607" y="507" font-size="11" text-anchor="start" stroke="#222" stroke-width="0.35" font-weight="bold" textLength="29.3" lengthAdjust="spacingAndGlyphs" fill="#222">Tg-CL</text>
</svg>
</body></html>
